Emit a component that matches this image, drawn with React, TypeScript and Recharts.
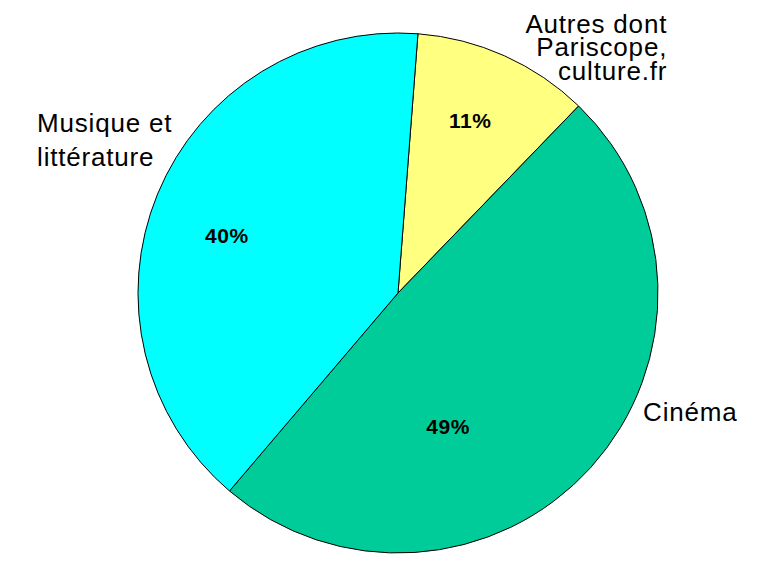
import React from 'react';
import { PieChart, Pie, Cell } from 'recharts';

const categories = ['Autres dont Pariscope, culture.fr', 'Cinéma', 'Musique et littérature'];
const shares = [11, 49, 40];
const nameLines = [['Autres dont', 'Pariscope,', 'culture.fr'], ['Cinéma'], ['Musique et', 'littérature']];
const colors = ['#FFFF80', '#00CC99', '#00FFFF'];

// label placement: polar offsets relative to each slice's mid angle
const pctLayout = [
  { r: 0.72, da: 1.5 },
  { r: 0.55, da: -27.3 },
  { r: 0.695, da: 3.7 },
];
const nameLayout = [
  { r: 1.402, da: -23.4, anchor: 'end', lh: 23.5 },
  { r: 1.048, da: 16.3, anchor: 'start', lh: 24 },
  { r: 1.508, da: -0.6, anchor: 'start', lh: 34 },
];

const data = categories.map((name, i) => ({ name, value: shares[i] }));

const RAD = Math.PI / 180;
const FONT = "'Liberation Sans', Arial, sans-serif";

const renderLabel = (props: any) => {
  const { cx, cy, midAngle, outerRadius, index, value } = props;
  const p = pctLayout[index];
  const n = nameLayout[index];
  const pa = (midAngle + p.da) * RAD;
  const px = cx + outerRadius * p.r * Math.cos(pa);
  const py = cy - outerRadius * p.r * Math.sin(pa);
  const na = (midAngle + n.da) * RAD;
  const nx = cx + outerRadius * n.r * Math.cos(na);
  const ny = cy - outerRadius * n.r * Math.sin(na);
  const lines = nameLines[index];
  const firstDy = -((lines.length - 1) * n.lh) / 2;
  return (
    <g>
      <text
        x={px}
        y={py}
        textAnchor="middle"
        dominantBaseline="central"
        fontSize={21}
        fontWeight="bold"
        letterSpacing={0.5}
        fill="#000"
        fontFamily={FONT}
      >
        {`${value}%`}
      </text>
      <text
        x={nx}
        y={ny + firstDy}
        textAnchor={n.anchor}
        dominantBaseline="central"
        fontSize={26}
        letterSpacing={0.8}
        fill="#000"
        fontFamily={FONT}
      >
        {lines.map((l, i) => (
          <tspan key={i} x={nx} dy={i === 0 ? 0 : n.lh}>
            {l}
          </tspan>
        ))}
      </text>
    </g>
  );
};

export default function App() {
  return (
    <div style={{ position: 'absolute', left: 0, top: 0, width: 778, height: 578, background: '#fff' }}>
      <PieChart width={778} height={578} margin={{ top: 0, right: 0, bottom: 0, left: 0 }}>
        <Pie
          data={data}
          dataKey="value"
          nameKey="name"
          cx={398}
          cy={293}
          outerRadius={260}
          startAngle={85.6}
          endAngle={-274.4}
          paddingAngle={0}
          stroke="#000"
          strokeWidth={1}
          label={renderLabel}
          labelLine={false}
          isAnimationActive={false}
        >
          {data.map((d, i) => (
            <Cell key={d.name} fill={colors[i]} />
          ))}
        </Pie>
      </PieChart>
    </div>
  );
}
